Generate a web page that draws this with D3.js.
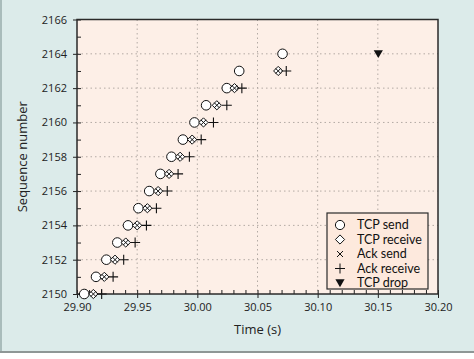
<!DOCTYPE html>
<html><head><meta charset="utf-8">
<script src="https://cdn.jsdelivr.net/npm/d3@7"></script>
<style>
html,body{margin:0;padding:0;background:#fff;}
svg{display:block;font-family:"Open Sans",sans-serif;}
</style></head>
<body>
<script>
// ---- data ----
const seqSend = [2150,2151,2152,2153,2154,2155,2156,2157,2158,2159,2160,2161,2162,2163,2164];
const tcpSend = [29.906,29.9158,29.9244,29.9335,29.9424,29.951,29.960,29.9693,29.9785,29.988,29.9976,30.0073,30.0245,30.0348,30.0708];
const seqRecv = [2150,2151,2152,2153,2154,2155,2156,2157,2158,2159,2160,2161,2162,2163];
const tcpReceive = [29.9136,29.9227,29.9316,29.9405,29.950,29.9585,29.9674,29.9765,29.9857,29.9957,30.0051,30.0162,30.0309,30.0672];
const ackSend = [29.9136,29.9227,29.9316,29.9405,29.950,29.9585,29.9674,29.9765,29.9857,29.9957,30.0051,30.0162,30.0309,30.0672];
const ackReceive = [29.9205,29.930,29.9388,29.9483,29.9577,29.966,29.975,29.984,29.9934,30.0032,30.0134,30.0245,30.037,30.0739];
const dropTime = [30.1504];
const dropSeq = [2164];
const xTicks = [29.90,29.95,30.00,30.05,30.10,30.15,30.20];
const yTicks = [2150,2152,2154,2156,2158,2160,2162,2164,2166];
const legendLabels = ["TCP send","TCP receive","Ack send","Ack receive","TCP drop"];

const W=474,H=359;
const L=77,R=438,T=19.5,B=294;
const svg=d3.select("body").append("svg").attr("width",W).attr("height",H);

// figure background
svg.append("rect").attr("x",0).attr("y",0).attr("width",W).attr("height",352).attr("fill","#dcebea");
svg.append("rect").attr("x",0).attr("y",0).attr("width",2).attr("height",352).attr("fill","#a9bcbb");
svg.append("rect").attr("x",0).attr("y",351).attr("width",W).attr("height",2).attr("fill","#8e9796");

const x=d3.scaleLinear().domain([29.90,30.20]).range([L,R]);
const y=d3.scaleLinear().domain([2150,2166]).range([B,T]);

svg.append("rect").attr("x",L).attr("y",T).attr("width",R-L).attr("height",B-T).attr("fill","#fdefe7");

// grid
const g=svg.append("g");
g.selectAll(".gx").data(xTicks.slice(1,-1)).join("line")
 .attr("x1",d=>x(d)).attr("x2",d=>x(d)).attr("y1",T).attr("y2",B)
 .attr("stroke","#b3aaa4").attr("stroke-width",1).attr("stroke-dasharray","1.5,3");
g.selectAll(".gy").data(yTicks.slice(1,-1)).join("line")
 .attr("y1",d=>y(d)).attr("y2",d=>y(d)).attr("x1",L).attr("x2",R)
 .attr("stroke","#b3aaa4").attr("stroke-width",1).attr("stroke-dasharray","1.5,3");

// axes
const minorX=d3.range(0,31).map(i=>29.90+i*0.01).filter(v=>Math.abs(Math.round(v*20)-v*20)>1e-6);
const minorY=d3.range(2151,2166,2);
const xAxisMinor=d3.axisBottom(x).tickValues(minorX).tickSize(-4).tickFormat("");
const xAxis=d3.axisBottom(x).tickValues(xTicks).tickSize(4).tickPadding(5).tickFormat(d3.format(".2f"));
const yAxisMinor=d3.axisLeft(y).tickValues(minorY).tickSize(-4).tickFormat("");
const yAxis=d3.axisLeft(y).tickValues(yTicks).tickSize(4).tickPadding(6).tickFormat(d3.format("d"));

function styleAxis(sel){
  sel.select(".domain").remove();
  sel.selectAll("line").attr("stroke","#222").attr("stroke-width",1);
  sel.selectAll("text").attr("fill","#222").style("font-size","11px").style("font-family","'Open Sans',sans-serif");
}
svg.append("g").attr("transform",`translate(0,${B})`).call(xAxisMinor).call(styleAxis);
const gx=svg.append("g").attr("transform",`translate(0,${B})`).call(xAxis).call(styleAxis);
gx.selectAll(".tick line").attr("y1",-4);
svg.append("g").attr("transform",`translate(${L},0)`).call(yAxisMinor).call(styleAxis);
const gy=svg.append("g").attr("transform",`translate(${L},0)`).call(yAxis).call(styleAxis);
gy.selectAll(".tick line").attr("x1",4);

// frame
svg.append("rect").attr("x",L).attr("y",T).attr("width",R-L).attr("height",B-T)
 .attr("fill","none").attr("stroke","#2a2a2a").attr("stroke-width",1.5);

// axis titles
svg.append("text").attr("x",(L+R)/2).attr("y",334).attr("text-anchor","middle")
 .style("font-size","13px").attr("fill","#222").text("Time (s)");
svg.append("text").attr("transform",`translate(27,${(T+B)/2}) rotate(-90)`).attr("text-anchor","middle")
 .style("font-size","13px").attr("fill","#222").text("Sequence number");

// markers
function plusPath(s){return `M${-s},0H${s}M0,${-s}V${s}`;}
function xPath(s){return `M${-s},${-s}L${s},${s}M${-s},${s}L${s},${-s}`;}
function triDown(s){return `M${-s},${-s*0.8}L${s},${-s*0.8}L0,${s*0.9}Z`;}

const m=svg.append("g");
m.selectAll(".cs").data(tcpSend).join("circle")
 .attr("cx",d=>x(d)).attr("cy",(d,i)=>y(seqSend[i])).attr("r",4.8)
 .attr("fill","#fff").attr("stroke","#111").attr("stroke-width",1);
m.selectAll(".dr").data(tcpReceive).join("path")
 .attr("transform",(d,i)=>`translate(${x(d)},${y(seqRecv[i])})`)
 .attr("d","M0,-4.6L4.6,0L0,4.6L-4.6,0Z").attr("fill","#fff").attr("stroke","#111").attr("stroke-width",1);
m.selectAll(".as").data(ackSend).join("path")
 .attr("transform",(d,i)=>`translate(${x(d)},${y(seqRecv[i])})`)
 .attr("d",xPath(2.6)).attr("fill","none").attr("stroke","#111").attr("stroke-width",1);
m.selectAll(".ar").data(ackReceive).join("path")
 .attr("transform",(d,i)=>`translate(${x(d)},${y(seqRecv[i])})`)
 .attr("d",plusPath(5)).attr("fill","none").attr("stroke","#111").attr("stroke-width",1.1);
m.selectAll(".td").data(dropTime).join("path")
 .attr("transform",(d,i)=>`translate(${x(d)},${y(dropSeq[i])})`)
 .attr("d",triDown(4.6)).attr("fill","#111");

// legend
const lg=svg.append("g");
lg.append("rect").attr("x",327).attr("y",213).attr("width",101).attr("height",76)
 .attr("fill","#fde9dd").attr("stroke","#2a2a2a").attr("stroke-width",1.2);
const ly=d=>225+d*14.5;
legendLabels.forEach((t,i)=>{
  lg.append("text").attr("x",357).attr("y",ly(i)+4.4)
    .style("font-size","12.5px").style("font-family","Lato,sans-serif").attr("fill","#111").text(t);
});
lg.append("circle").attr("cx",340).attr("cy",ly(0)).attr("r",4.6).attr("fill","#fff").attr("stroke","#111");
lg.append("path").attr("transform",`translate(340,${ly(1)})`).attr("d","M0,-4.6L4.6,0L0,4.6L-4.6,0Z").attr("fill","#fff").attr("stroke","#111");
lg.append("path").attr("transform",`translate(340,${ly(2)})`).attr("d",xPath(3)).attr("stroke","#111").attr("fill","none");
lg.append("path").attr("transform",`translate(340,${ly(3)})`).attr("d",plusPath(5)).attr("stroke","#111").attr("fill","none");
lg.append("path").attr("transform",`translate(340,${ly(4)})`).attr("d",triDown(4.6)).attr("fill","#111");
</script>
</body></html>
